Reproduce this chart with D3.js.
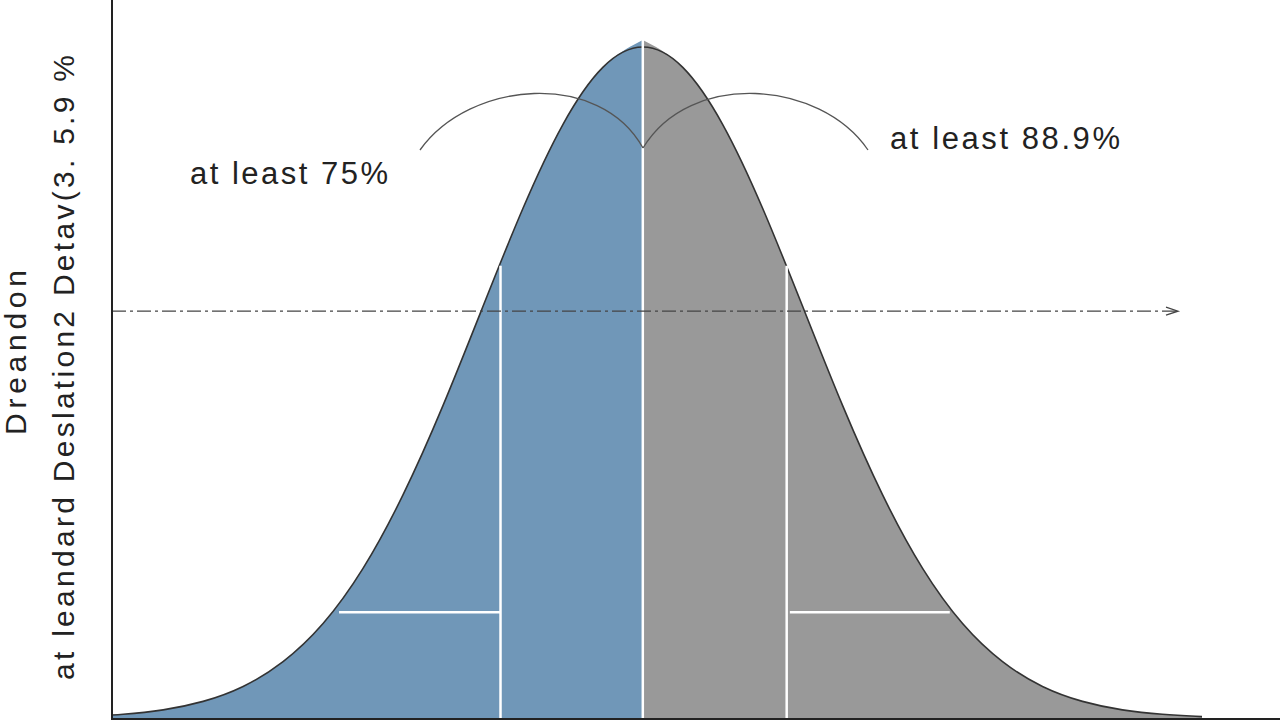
<!DOCTYPE html>
<html><head><meta charset="utf-8">
<script src="https://cdn.jsdelivr.net/npm/d3@7"></script>
<style>body{margin:0;background:#fff}svg{display:block}</style>
</head><body>
<svg width="1280" height="720"></svg>
<script>
// Curve samples (relative density)
const xs = [-3.5,-3.25,-3,-2.75,-2.5,-2.25,-2,-1.75,-1.5,-1.25,-1,-0.75,-0.5,-0.25,0,0.25,0.5,0.75,1,1.25,1.5,1.75,2,2.25,2.5,2.75,3,3.25,3.5];
const ys = [0.002,0.005,0.011,0.023,0.044,0.080,0.135,0.216,0.325,0.458,0.607,0.755,0.882,0.969,1,0.969,0.882,0.755,0.607,0.458,0.325,0.216,0.135,0.080,0.044,0.023,0.011,0.005,0.002];
const markerX = [-0.89, 0.9];
const markerY = [0.667, 0.667];
const tailY = 0.156;
const tailSpans = [[-1.9,-0.89],[0.92,1.92]];
const refLevel = 0.6;
const labels = ["at least 75%","at least 88.9%"];
const yTitle = ["at leandard Deslation2  Detav(3. 5.9 %","Dreandon"];

const svg = d3.select("svg");
svg.append("defs").append("clipPath").attr("id","c").append("rect").attr("x",112).attr("y",0).attr("width",1090).attr("height",720);
const x = d3.scaleLinear().domain([-3.32,3.36]).range([112,1180]);
const y = d3.scaleLinear().domain([0,1]).range([718,40]);
const pts = xs.map((v,i)=>[v,ys[i]]);
const area = d3.area().x(d=>x(d[0])).y0(y(0)).y1(d=>y(d[1])).curve(d3.curveBasis);
const line = d3.line().x(d=>x(d[0])).y(d=>y(d[1])).curve(d3.curveBasis);
const left = pts.filter(d=>d[0]<=0), right = pts.filter(d=>d[0]>=0);
const g = svg.append("g").attr("clip-path","url(#c)");
g.append("path").attr("d",area(left)).attr("fill","#7097b8");
g.append("path").attr("d",area(right)).attr("fill","#999999");
g.append("path").attr("d",line(pts)).attr("fill","none").attr("stroke","#333").attr("stroke-width",1.6);
svg.append("line").attr("x1",x(0)).attr("x2",x(0)).attr("y1",y(0)).attr("y2",y(1)).attr("stroke","#fff").attr("stroke-width",2.5);
markerX.forEach((m,i)=>svg.append("line").attr("x1",x(m)).attr("x2",x(m)).attr("y1",y(0)).attr("y2",y(markerY[i])).attr("stroke","#fff").attr("stroke-width",2.5));
tailSpans.forEach(s=>svg.append("line").attr("x1",x(s[0])).attr("x2",x(s[1])).attr("y1",y(tailY)).attr("y2",y(tailY)).attr("stroke","#fff").attr("stroke-width",2.5));
svg.append("line").attr("x1",112).attr("x2",1176).attr("y1",y(refLevel)).attr("y2",y(refLevel)).attr("stroke","#444").attr("stroke-width",1.3).attr("stroke-dasharray","14,4,3,4");
svg.append("path").attr("d",`M1166,${y(refLevel)-4}L1178,${y(refLevel)}L1166,${y(refLevel)+4}`).attr("fill","none").attr("stroke","#444").attr("stroke-width",1.3);
svg.append("path").attr("d","M420,150 C470,80 600,70 643,148").attr("fill","none").attr("stroke","#555").attr("stroke-width",1.3);
svg.append("path").attr("d","M643,148 C690,70 820,80 868,150").attr("fill","none").attr("stroke","#555").attr("stroke-width",1.3);
svg.append("line").attr("x1",112).attr("x2",112).attr("y1",0).attr("y2",720).attr("stroke","#222").attr("stroke-width",2);
svg.append("line").attr("x1",112).attr("x2",1280).attr("y1",719).attr("y2",719).attr("stroke","#222").attr("stroke-width",2);
const ff="Liberation Sans, Arial";
svg.append("text").attr("x",190).attr("y",184).text(labels[0]).attr("font-family",ff).attr("font-size",31).attr("textLength",198).attr("fill","#222");
svg.append("text").attr("x",890).attr("y",149).text(labels[1]).attr("font-family",ff).attr("font-size",31).attr("textLength",230).attr("fill","#222");
svg.append("text").attr("transform","translate(74,680) rotate(-90)").text(yTitle[0]).attr("font-family",ff).attr("font-size",30).attr("textLength",625).attr("fill","#222");
svg.append("text").attr("transform","translate(26,435) rotate(-90)").text(yTitle[1]).attr("font-family",ff).attr("font-size",30).attr("textLength",165).attr("fill","#222");
</script>
</body></html>
